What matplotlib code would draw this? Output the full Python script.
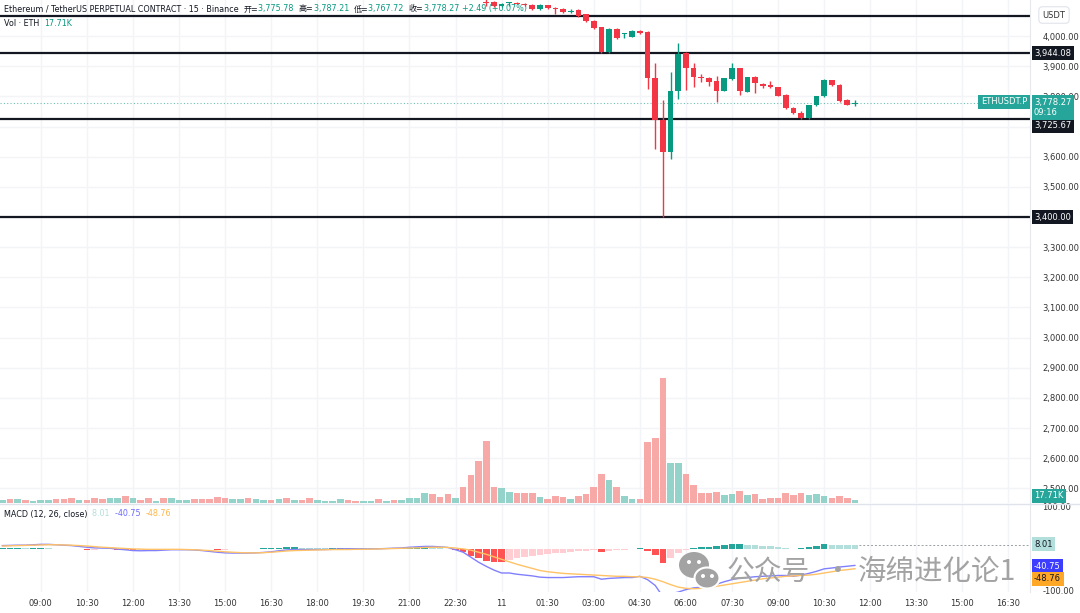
import matplotlib
matplotlib.use("Agg")
import matplotlib.pyplot as plt
from matplotlib.patches import Ellipse, Circle
from matplotlib.lines import Line2D
from matplotlib.transforms import IdentityTransform
import numpy as np

plt.rcParams['font.family'] = ['DejaVu Sans', 'Noto Sans CJK SC']

W, H = 1080, 613

# 15 min bars, bar 0 = 07:45 of the first day
time_ticks = [5, 11, 17, 23, 29, 35, 41, 47, 53, 59, 65, 71, 77, 83, 89, 95, 101, 107, 113, 119, 125, 131]
time_labels = ['09:00', '10:30', '12:00', '13:30', '15:00', '16:30', '18:00', '19:30', '21:00', '22:30', '11',
               '01:30', '03:00', '04:30', '06:00', '07:30', '09:00', '10:30', '12:00', '13:30', '15:00', '16:30']

price_levels = [4000, 3900, 3800, 3700, 3600, 3500, 3400, 3300, 3200, 3100, 3000, 2900, 2800, 2700, 2600, 2500]
hidden_levels = [3700, 3400]

key_levels = [4067.0, 3944.08, 3725.67, 3400.0]

header_ohlc = ['3,775.78', '3,787.21', '3,767.72', '3,778.27']
header_change = '+2.49 (+0.07%)'
last_price = 3778.27
countdown = '09:16'
last_volume = '17.71K'

# candles visible in the window start at bar 63
candle_start = 63
c_open = [4113, 4113, 4099, 4109, 4111, 4108, 4104, 4089, 4103, 4093, 4090, 4079, 4087, 4073, 4051, 4029,
          3946, 4024, 4008, 3998, 4017, 4013, 3862, 3722, 3615, 3819, 3943, 3893, 3866, 3862, 3851, 3819,
          3858, 3893, 3816, 3865, 3841, 3838, 3830, 3805, 3763, 3744, 3727, 3771, 3801, 3854, 3838, 3788, 3775.78]
c_high = [4125, 4118, 4110, 4112, 4112, 4110, 4106, 4105, 4104, 4098, 4092, 4090, 4090, 4075, 4053, 4031,
          4026, 4026, 4012, 4020, 4019, 4016, 3910, 3788, 3882, 3976, 3946, 3910, 3873, 3866, 3868, 3862,
          3910, 3895, 3865, 3867, 3843, 3850, 3832, 3807, 3765, 3752, 3773, 3803, 3857, 3856, 3840, 3790, 3787.21]
c_low = [4100, 4097, 4097, 4100, 4107, 4100, 4087, 4088, 4090, 4073, 4077, 4077, 4065, 4048, 4024, 3945,
         3944, 3991, 3994, 3996, 4008, 3826, 3624, 3400, 3592, 3792, 3821, 3830, 3847, 3836, 3782, 3817,
         3856, 3804, 3814, 3812, 3827, 3829, 3800, 3759, 3742, 3726, 3725, 3769, 3799, 3836, 3782, 3770, 3767.72]
c_close = [4111, 4099, 4107, 4111, 4108, 4102, 4089, 4103, 4092, 4090, 4079, 4081, 4067, 4050, 4026, 3948,
           4024, 3993, 4011, 4018, 4009, 3860, 3722, 3615, 3819, 3940, 3893, 3863, 3860, 3849, 3819, 3860,
           3893, 3818, 3863, 3843, 3834, 3830, 3802, 3761, 3744, 3727, 3771, 3801, 3855, 3838, 3786, 3772, 3778.27]

# volume in thousands ETH, one per bar from bar 0
volume_k = [18, 24, 24, 18, 12, 18, 18, 21, 21, 30, 18, 18, 27, 21, 27, 30, 44, 30, 15, 27,
            12, 27, 27, 18, 18, 21, 21, 21, 35, 27, 21, 21, 32, 21, 18, 18, 21, 27, 18, 18,
            32, 18, 12, 12, 24, 18, 12, 12, 12, 24, 12, 18, 18, 27, 27, 57, 53, 38, 53, 27,
            94, 165, 248, 366, 94, 87, 63, 59, 59, 57, 35, 22, 40, 37, 22, 43, 53, 96, 169, 136,
            93, 43, 25, 25, 362, 384, 739, 238, 234, 169, 104, 57, 61, 67, 47, 53, 71, 47, 53, 25,
            31, 31, 57, 49, 57, 47, 53, 41, 31, 43, 31, 17.71]
# bar direction (u / d) for the bars before the visible candles
early_dir = ("ududuuuddd" "uddduududd" "uduuuddddd" "uuduududud"
             "duuuudduud" "uduuuudddu" "ddd")

macd_line = [7, 7.5, 8, 8, 9, 10, 10, 9, 8, 7, 5, 3, 1.5, 1, 0.5, -1.5, -3, -5, -5.5, -5,
             -5, -4, -3, -3, -3, -3.5, -5, -7, -9, -10.5, -11, -11, -11, -10.5, -9.5, -8, -5.5, -3.5, -2.5, -2.5,
             -2.5, -2.5, -2.5, -2, -1, -0.5, -0.5, -1, -1, -0.7, 0, 0.8, 1.5, 3, 4, 5, 5, 4, 2.5,
             -3, -9, -21, -33, -43, -52, -59, -59, -62, -64, -66,
             -69, -70, -70, -70, -69, -68, -68, -68, -74, -72, -71, -70, -70, -67,
             -75, -89, -116, -109, -105, -99, -95, -93, -90, -86,
             -80, -75, -71, -70, -68, -67, -66, -65, -65, -67, -64,
             -60, -55, -49, -47, -44.5, -42.8, -40.75]
signal_line = [6, 6.5, 7, 7.5, 8, 8.5, 9, 9, 8.5, 8, 7, 6, 4.5, 3, 2, 1, 0, -1, -1.5, -2,
               -2, -2, -2, -2, -2.5, -3, -4, -5, -6.5, -8, -9, -10, -10.5, -10.5, -10, -9, -7.5, -6, -5, -4.5,
               -4, -3.5, -3, -2.5, -2.5, -2.5, -2, -2, -1.5, -1, -0.5, 0, 0.5, 1, 1.5, 2.5, 3, 3, 2.5,
               1, -1, -4, -9, -14, -20, -26, -32, -38, -43, -48,
               -53, -56, -58, -60, -61, -62, -63, -64, -65, -66, -67, -67, -68, -68,
               -70, -74, -80, -87, -93, -96, -97, -96, -94, -91,
               -88, -85, -82, -79, -76, -73, -71, -69, -67, -66, -65,
               -64, -62, -59, -56, -53, -51, -48.76]
macd_hist = [1, 1, 1, 0.5, 1, 1.5, 1, 0, -0.5, -1, -2, -3, -3, -2, -1.5, -2.5, -3, -4, -4, -3,
             -3, -2, -1, -1, -0.5, -0.5, -1, -2, -2.5, -2.5, -2, -1, -0.5, 0, 0.5, 1, 2, 2.5, 2.5, 2,
             1.5, 1, 0.5, 0.5, 1.5, 2, 1.5, 1, 0.5, 0.3, 0.5, 0.8, 1, 2, 2.5, 2.5, 2, 1, 0,
             -4, -8, -17, -24, -29, -32, -33, -27, -24, -21, -18,
             -16, -14, -12, -10, -8, -6, -5, -4, -9, -6, -4, -3, -2, 1,
             -5, -15, -36, -22, -12, -3, 2, 3, 4, 5,
             8, 10, 11, 9, 8, 6, 5, 4, 2, -1, 1,
             4, 7, 10, 9, 8.5, 8.2, 8.01]

UP = '#089981'
DN = '#f23645'
UP_V = '#93d3ca'
DN_V = '#f7a9a8'
TXT = '#131722'
GRID = '#f3f4f7'
FS = 6.0


def rect(x0, y0, x1, y1):
    return [x0 / W, 1 - y1 / H, (x1 - x0) / W, (y1 - y0) / H]


fig = plt.figure(figsize=(W / 100, H / 100), dpi=100)
fig.patch.set_facecolor('white')

ax = fig.add_axes(rect(0, 0, 1030, 503))
axv = fig.add_axes(rect(0, 0, 1030, 503), sharex=ax)
axv.set_zorder(ax.get_zorder() + 1)
axv.patch.set_visible(False)
axm = fig.add_axes(rect(0, 505, 1030, 592), sharex=ax)

ax.set_xlim(-0.31, 133.8)
ax.set_ylim(2451.4, 4119.9)
axv.set_ylim(0, 2968)
axm.set_ylim(-104.8, 104.8)

# grid
ax.set_xticks(time_ticks)
ax.set_yticks(price_levels, ['' if p in hidden_levels else f'{p:,.2f}' for p in price_levels])
ax.grid(True, color=GRID, lw=1)
ax.set_axisbelow(True)
axm.grid(True, axis='x', color=GRID, lw=1)
axm.set_axisbelow(True)

ax.yaxis.tick_right()
ax.tick_params(axis='y', length=0, pad=9, labelsize=FS, labelcolor='#333333')
ax.tick_params(axis='x', length=0, labelbottom=False)
axv.axis('off')
for a in (ax, axm):
    for s in a.spines.values():
        s.set_visible(False)
    a.spines['right'].set_visible(True)
    a.spines['right'].set_color('#e6e8ee')

axm.yaxis.tick_right()
axm.set_yticks([100, -100], ['100.00', '-100.00'])
axm.tick_params(axis='y', length=0, pad=9, labelsize=FS, labelcolor='#333333')
axm.set_xticks(time_ticks, time_labels)
axm.tick_params(axis='x', length=0, pad=5, labelsize=FS, labelcolor='#333333')

# key levels
for lv in key_levels:
    ax.axhline(lv, color=TXT, lw=1.6, zorder=2)
ax.axhline(last_price, color=UP, lw=0.8, ls=(0, (1, 2)), alpha=0.6, zorder=2)

# candles
o = np.array(c_open, float)
hi = np.array(c_high, float)
lo = np.array(c_low, float)
cl = np.array(c_close, float)
idx = np.arange(candle_start, candle_start + len(o))
up = cl >= o
ccol = np.where(up, UP, DN)
ax.vlines(idx, lo, hi, colors=ccol, lw=1, zorder=3)
ax.bar(idx, np.maximum(np.abs(cl - o), 3.0), bottom=np.minimum(o, cl), width=0.74,
       color=ccol, linewidth=0, zorder=4)

# volume
vdir = list(early_dir) + ['u' if u else 'd' for u in up]
vcol = [UP_V if d == 'u' else DN_V for d in vdir]
axv.bar(np.arange(len(volume_k)), volume_k, width=0.86, color=vcol, linewidth=0)

# macd
hist = np.array(macd_hist, float)
hcol = []
for k, v in enumerate(hist):
    prev = hist[k - 1] if k > 0 else v
    if v >= 0:
        hcol.append('#26a69a' if v >= prev else '#b2dfdb')
    else:
        hcol.append('#ff5252' if v < prev else '#ffcdd2')
mi = np.arange(len(hist))
axm.bar(mi, hist, width=0.86, color=hcol, linewidth=0, zorder=2)
axm.plot(mi, macd_line, color='#8080ff', lw=1, zorder=3)
axm.plot(mi, signal_line, color='#ffc266', lw=1, zorder=3)
axm.hlines(macd_hist[-1], mi[-1], 133.8, color='#9aa0a6', lw=0.7, ls=(0, (2, 2)), zorder=1)


# right axis labels
def side_label(a, y, text, fc, tc, dy=0, ha='left', dx=4, va='center'):
    a.annotate(text, xy=(1, y), xycoords=('axes fraction', 'data'), xytext=(dx, dy),
               textcoords='offset pixels', ha=ha, va=va, fontsize=FS, color=tc,
               bbox=dict(boxstyle='square,pad=0.3', fc=fc, ec='none'), annotation_clip=False, zorder=10)


side_label(ax, 3944.08, '3,944.08', TXT, 'white')
side_label(ax, 3725.67, '3,725.67', TXT, 'white', dy=-7)
side_label(ax, 3400.0, '3,400.00', TXT, 'white')
side_label(ax, last_price, f'{last_price:,.2f}\n{countdown}', '#26a69a', 'white', dy=5, va='top')
side_label(ax, last_price, 'ETHUSDT.P', '#26a69a', 'white', ha='right', dx=-3, dy=1)
side_label(axv, 17.71, last_volume, '#26a69a', 'white', dy=4)
side_label(axm, macd_hist[-1], f'{macd_hist[-1]:.2f}', '#b2dfdb', TXT, dy=1)
side_label(axm, macd_line[-1], f'{macd_line[-1]:.2f}', '#3d3dff', 'white', dy=-1)
side_label(axm, signal_line[-1], f'{signal_line[-1]:.2f}', '#ffa726', TXT, dy=-10)
ax.annotate('USDT', xy=(1, 1), xycoords='axes fraction', xytext=(24, -15), textcoords='offset pixels',
            ha='center', va='center', fontsize=FS, color='#333333', annotation_clip=False,
            bbox=dict(boxstyle='round,pad=0.45', fc='white', ec='#e0e3eb', lw=0.8))

fig.add_artist(Line2D([0, 1], [1 - 503.5 / H, 1 - 503.5 / H], transform=fig.transFigure, color='#e0e3eb', lw=1))


# header lines
def chain(a, x, y, parts, size=5.8):
    t = a.annotate(parts[0][0], xy=(x / W, 1 - y / H), xycoords='figure fraction', ha='left',
                   va='center', fontsize=size, color=parts[0][1], annotation_clip=False, zorder=12)
    for s, colr in parts[1:]:
        t = a.annotate(s, xy=(1, 0), xycoords=t, ha='left', va='bottom', fontsize=size,
                       color=colr, annotation_clip=False, zorder=12)


chain(ax, 4, 9, [('Ethereum / TetherUS PERPETUAL CONTRACT · 15 · Binance  ', TXT),
                 ('开=', TXT), (header_ohlc[0] + '  ', UP), ('高=', TXT), (header_ohlc[1] + '  ', UP),
                 ('低=', TXT), (header_ohlc[2] + '  ', UP), ('收=', TXT), (header_ohlc[3] + ' ', UP),
                 (header_change, UP)])
chain(ax, 4, 23, [('Vol · ETH  ', TXT), (last_volume, UP)])
chain(axm, 4, 514, [('MACD (12, 26, close)  ', TXT), (f'{macd_hist[-1]:.2f}  ', '#b2dfdb'),
                    (f'{macd_line[-1]:.2f}  ', '#6b6bff'), (f'{signal_line[-1]:.2f}', '#ffb74d')])

# watermark
ident = IdentityTransform()
wm = '#a3a3a3'
fig.add_artist(Ellipse((694, H - 565), 30, 26, transform=ident, fc=wm, ec='none', zorder=20))
fig.add_artist(Ellipse((707, H - 578), 25, 21, transform=ident, fc=wm, ec='white', lw=1.5, zorder=21))
for ex, ey in [(689, 562), (699, 562), (703, 576), (712, 576)]:
    fig.add_artist(Circle((ex, H - ey), 2, transform=ident, fc='white', ec='none', zorder=22))
fig.text(727 / W, 1 - 572 / H, '公众号', fontsize=20, color=wm, family='Noto Sans CJK SC', va='center', zorder=20)
fig.text(838 / W, 1 - 572 / H, '·', fontsize=20, color=wm, family='Noto Sans CJK SC', va='center',
         ha='center', zorder=20)
fig.text(858 / W, 1 - 572 / H, '海绵进化论1', fontsize=20.5, color=wm, family='Noto Sans CJK SC', va='center',
         zorder=20)

fig.savefig('out.png', dpi=100)
